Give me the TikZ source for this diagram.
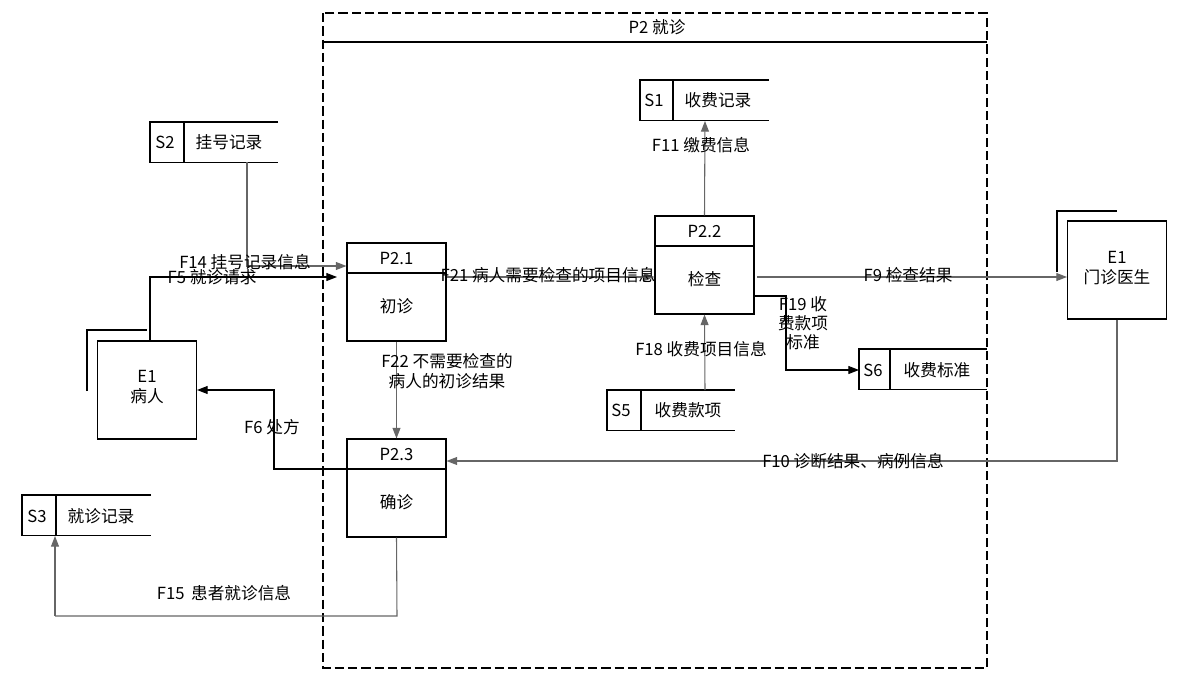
\documentclass[tikz,border=0pt]{standalone}
\usepackage{fontspec}
\setmainfont{Noto Sans CJK SC}
\usetikzlibrary{arrows.meta}
\begin{document}
\begin{tikzpicture}[x=0.75pt,y=-0.75pt,
  every node/.style={font=\fontsize{12.5}{14.5}\selectfont},
  box/.style={draw,line width=0.8pt,minimum width=74.25pt,minimum height=73.5pt,inner sep=0pt},
  ln/.style={line width=0.8pt},
  g/.style={draw=black!60,line width=0.8pt,-{Triangle[length=8pt,width=6pt]}},
  k/.style={draw=black,line width=0.8pt,-{Triangle[length=8pt,width=6pt]}},
  lab/.style={fill=none,inner sep=1pt,align=center}]
\useasboundingbox (0,0) rectangle (1181,688);
% frame
\draw[ln,dash pattern=on 7pt off 3pt] (323,13) rectangle (987,668);
\draw[ln] (323,42) -- (987,42);
\node at (657,27) {P2 就诊};
% processes
\node[box] (p21) at (396.5,292) {};
\draw[ln] (347,273) -- (446,273);
\node at (396.5,258) {P2.1}; \node at (396.5,306) {初诊};
\node[box] (p22) at (704.5,265) {};
\draw[ln] (655,246) -- (754,246);
\node at (704.5,231) {P2.2}; \node at (704.5,279) {检查};
\node[box] (p23) at (396.5,488) {};
\draw[ln] (347,469) -- (446,469);
\node at (396.5,454) {P2.3}; \node at (396.5,502) {确诊};
% entities
\node[box] (e1) at (147,390) {};
\node[align=center] at (147,387) {E1\\病人};
\draw[ln] (87,391) -- (87,330) -- (147,330);
\node[box] (e2) at (1117,270) {};
\node[align=center] at (1117,268) {E1\\门诊医生};
\draw[ln] (1057,272) -- (1057,211) -- (1117,211);
% stores
\newcommand\store[5]{%
  \draw[ln] (#3,#2) -- (#1,#2) -- (#1,#2+40.5) -- (#3,#2+40.5);
  \draw[ln] (#4,#2) -- (#4,#2+40.5);}
\store{640}{80}{769}{673}{}
\node at (654,100) {S1}; \node at (718,100) {收费记录};
\store{150}{122}{278}{184}{}
\node at (165,142) {S2}; \node at (229,142) {挂号记录};
\store{607}{390}{735}{641}{}
\node at (621,410) {S5}; \node at (688,410) {收费款项};
\store{859}{349}{987}{890}{}
\node at (873,370) {S6}; \node at (937,370) {收费标准};
\store{22}{495}{151}{56}{}
\node at (37,516) {S3}; \node at (101,516) {就诊记录};
\coordinate (s1) at (705,121);
\coordinate (s2) at (247,162);
\coordinate (s5) at (705,390);
\coordinate (s6) at (859,370);
\coordinate (s3) at (55,536);
\coordinate (f5end) at (337,277);
% connectors
\draw[g] (s2) |- (p21.west |- 0,266);
\node[lab] at (245,262) {F14 挂号记录信息};
\draw[k] (e1.north -| 150,0) |- (f5end);
\node[lab] at (212,277) {F5 就诊请求};
\draw[g] (p21.east |- 0,277) -- (p22.west |- 0,277);
\node[lab] at (548,275) {F21 病人需要检查的项目信息};
\draw[g] (p22.north) -- (s1);
\node[lab] at (701,145) {F11 缴费信息};
\draw[g] (757,277) -- (e2.west |- 0,277);
\node[lab] at (908,275) {F9 检查结果};
\draw[k] (p22.east |- 0,296) -- (786,296) |- (s6);
\node[lab] at (803,323) {F19 收\\费款项\\标准};
\draw[g] (s5) -- (p22.south);
\node[lab] at (701,349) {F18 收费项目信息};
\draw[g] (p21.south) -- (p23.north);
\node[lab] at (447,371) {F22 不需要检查的\\病人的初诊结果};
\draw[k] (p23.west |- 0,469) -- (274,469) |- (e1.east |- 0,390);
\node[lab] at (272,427) {F6 处方};
\draw[g] (e2.south) |- (p23.east |- 0,461);
\node[lab] at (853,461) {F10 诊断结果、病例信息};
\draw[draw=black!60,line width=0.8pt] (p23.south) -- (397,616) -- (55,616);
\draw[g] (55,616) -- (s3);
\node[lab] at (224,593) {F15 \,患者就诊信息};
\end{tikzpicture}
\end{document}
